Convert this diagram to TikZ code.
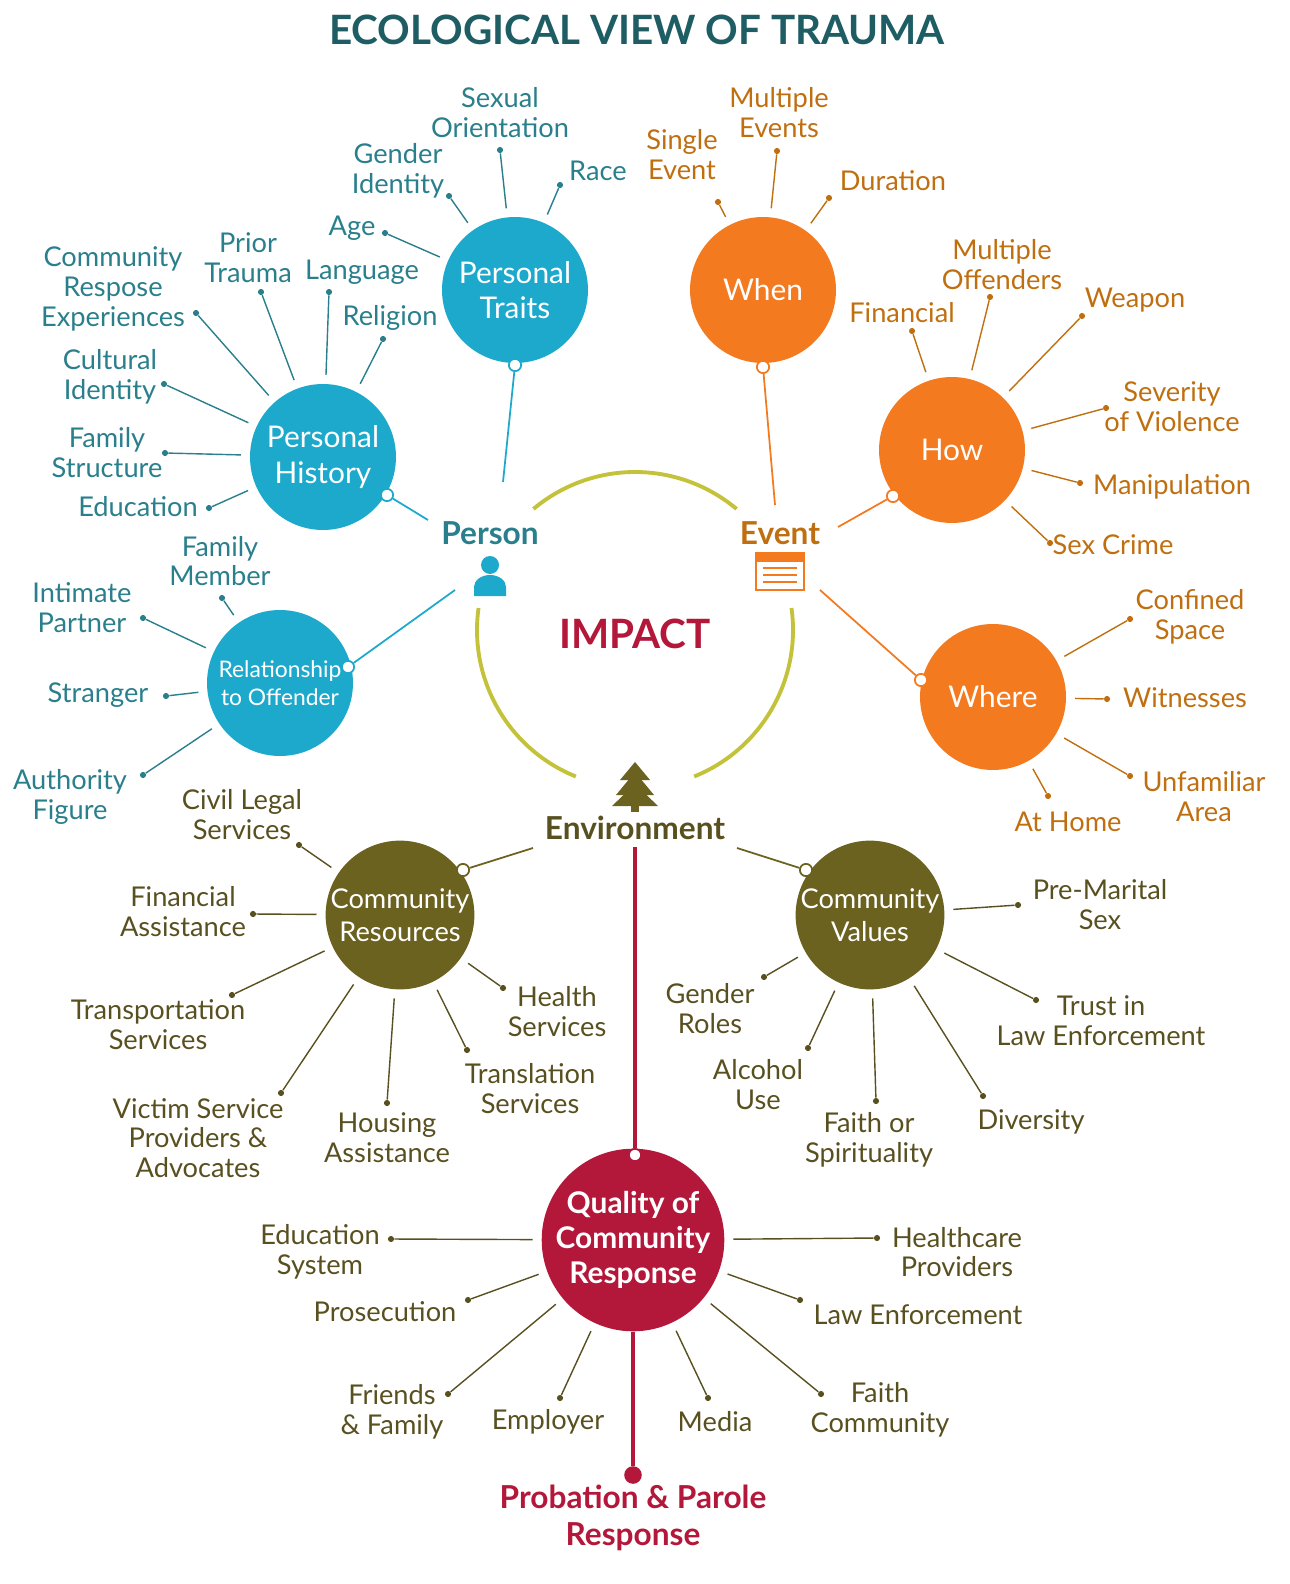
\documentclass[tikz,border=0pt]{standalone}
\usepackage{fontspec}
\setmainfont{Lato}
\usetikzlibrary{positioning}
\definecolor{tealc}{HTML}{1DA9CC}
\definecolor{tealt}{HTML}{2A7F8C}
\definecolor{orgc}{HTML}{F47A1F}
\definecolor{orgt}{HTML}{C06F10}
\definecolor{olvc}{HTML}{6B6220}
\definecolor{olvt}{HTML}{595020}
\definecolor{redc}{HTML}{B3173A}
\definecolor{ringc}{HTML}{C4C23A}
\definecolor{titlec}{HTML}{1D5D63}
\begin{document}
\begin{tikzpicture}[x=0.02cm,y=-0.02cm,
% hub circles
hub/.style = {circle, fill=#1, text=white, align=center, minimum size=2.92cm,
            inner sep=0, font=\fontsize{17}{20}\selectfont},
% leaf dots and labels
dot/.style = {circle, fill=#1, inner sep=0, minimum size=3.5pt},
lab/.style = {align=center, text=#1, font=\fontsize{15.5}{17}\selectfont, inner sep=1pt},
hollow/.style = {circle, draw=#1, fill=white, line width=1pt, inner sep=0, minimum size=7pt},
spoke/.style = {draw=#1, line width=0.8pt, shorten <=5pt},
key/.style = {text=#1, font=\fontsize{18}{21}\selectfont\bfseries}]
\useasboundingbox (0,0) rectangle (1290,1584);
\node[text=titlec, font=\fontsize{23}{27}\selectfont\bfseries] (title) at (637,30) {ECOLOGICAL VIEW OF TRAUMA};
% impact ring
\draw[ringc, line width=2.2pt] (635,630) ++(-50:158) arc (-50:-130:158);
\draw[ringc, line width=2.2pt] (635,630) ++(-172:158) arc (-172:-248:158);
\draw[ringc, line width=2.2pt] (635,630) ++(68:158) arc (68:-8:158);
\node[text=redc, font=\fontsize{23}{27}\selectfont\bfseries] (impact) at (635,634) {IMPACT};
\node[key=tealt] (person) at (490,533) {Person};
\node[key=orgt] (event) at (780,533) {Event};
\node[key=olvt] (env) at (635,828) {Environment};
% icons
\fill[tealc] (490,565) circle (9);
\fill[tealc] (474,596) -- (474,587) arc (180:360:16 and 12) -- (506,596) -- cycle;
\draw[orgc, line width=1pt, fill=white] (756,553) rectangle (804,590);
\fill[orgc] (756,553) rectangle (804,562);
\foreach \yy in {568,575,582} \draw[orgc, line width=1pt] (763,\yy) -- (797,\yy);
\fill[olvc] (635,762) -- (620,780) -- (650,780) -- cycle;
\fill[olvc] (635,772) -- (616,795) -- (654,795) -- cycle;
\fill[olvc] (635,784) -- (612,806) -- (658,806) -- cycle;
\fill[olvc] (631,806) rectangle (639,812);
% hubs
\node[hub=tealc] (traits) at (515,290) {Personal\\Traits};
\node[hub=tealc] (hist) at (323,457) {Personal\\History};
\node[hub=tealc, font=\fontsize{13}{16}\selectfont] (rel) at (280,683) {Relationship\\to Offender};
\node[hub=orgc] (when) at (763,290) {When};
\node[hub=orgc] (how) at (952,450) {How};
\node[hub=orgc] (where) at (993,697) {Where};
\node[hub=olvc, minimum size=2.88cm, font=\fontsize{15.5}{19}\selectfont] (res) at (400,915) {Community\\Resources};
\node[hub=olvc, minimum size=2.88cm, font=\fontsize{15.5}{19}\selectfont] (val) at (870,915) {Community\\Values};
\node[hub=redc, minimum size=3.4cm, font=\fontsize{17}{20}\selectfont\bfseries] (qual) at (633,1240) {Quality of\\Community\\Response};
% links to the ring labels
\node[hollow=tealc] (h1) at (515,365) {};
\node[hollow=tealc] (h2) at (387,495) {};
\node[hollow=tealc] (h3) at (348,667) {};
\node[hollow=orgc] (h4) at (763,367) {};
\node[hollow=orgc] (h5) at (893,496) {};
\node[hollow=orgc] (h6) at (921,680) {};
\node[hollow=olvc] (h7) at (463,870) {};
\node[hollow=olvc] (h8) at (806,870) {};
\node[hollow=redc] (h9) at (635,1155) {};
\coordinate (e1) at (503,482); \coordinate (e2) at (428,520);
\coordinate (e3) at (455,590); \coordinate (e4) at (775,505);
\coordinate (e5) at (838,527); \coordinate (e6) at (820,590);
\coordinate (e7) at (533,848); \coordinate (e8) at (737,848);
\coordinate (e9) at (635,847);
\draw[tealc, line width=1pt] (h1) -- (e1);
\draw[tealc, line width=1pt] (h2) -- (e2);
\draw[tealc, line width=1pt] (h3) -- (e3);
\draw[orgc, line width=1pt] (h4) -- (e4);
\draw[orgc, line width=1pt] (h5) -- (e5);
\draw[orgc, line width=1pt] (h6) -- (e6);
\draw[olvc, line width=1pt] (h7) -- (e7);
\draw[olvc, line width=1pt] (h8) -- (e8);
\draw[redc, line width=2pt] (e9) -- (h9);
\node[dot=redc, minimum size=10pt] (pp) at (633,1475) {};
\draw[redc, line width=2pt] (qual) -- (pp);
\node[key=redc, align=center] (ppr) at (633,1518) {Probation \& Parole\\Response};
% leaves
\foreach \n/\dx/\dy/\tx/\ty/\t in {so/500/150/500/113/{Sexual\\Orientation}, race/560/185/598/171/{Race},
    gi/449/196/398/171/{Gender\\Identity}, age/385/233/352/228/{Age}}{
  \node[dot=tealt] (tr-\n) at (\dx,\dy) {};
  \node[lab=tealt] (tr-\n-t) at (\tx,\ty) {\t};
  \draw[spoke=tealt] (traits) -- (tr-\n);}
\foreach \n/\dx/\dy/\tx/\ty/\t in {pt/261/292/248/258/{Prior\\Trauma}, cre/196/313/113/289/{Community\\Respose\\Experiences},
    lang/329/292/362/272/{Language}, rel/383/339/390/318/{Religion}, ci/164/384/110/377/{Cultural\\Identity},
    fs/165/453/107/453/{Family\\Structure}, ed/209/508/138/507/{Education}}{
  \node[dot=tealt] (hi-\n) at (\dx,\dy) {};
  \node[lab=tealt] (hi-\n-t) at (\tx,\ty) {\t};
  \draw[spoke=tealt] (hist) -- (hi-\n);}
\foreach \n/\dx/\dy/\tx/\ty/\t in {fm/222/598/220/561/{Family\\Member}, ip/143/618/82/608/{Intimate\\Partner},
    str/166/696/98/695/{Stranger}, af/143/775/70/797/{Authority\\Figure}}{
  \node[dot=tealt] (re-\n) at (\dx,\dy) {};
  \node[lab=tealt] (re-\n-t) at (\tx,\ty) {\t};
  \draw[spoke=tealt] (rel) -- (re-\n);}
\foreach \n/\dx/\dy/\tx/\ty/\t in {se/718/202/682/155/{Single\\Event}, me/777/151/779/113/{Multiple\\Events},
    dur/829/198/893/181/{Duration}}{
  \node[dot=orgt] (wh-\n) at (\dx,\dy) {};
  \node[lab=orgt] (wh-\n-t) at (\tx,\ty) {\t};
  \draw[spoke=orgt] (when) -- (wh-\n);}
\foreach \n/\dx/\dy/\tx/\ty/\t in {fin/912/331/902/313/{Financial}, mo/990/297/1002/265/{Multiple\\Offenders},
    wea/1082/316/1135/300/{Weapon}, sev/1106/408/1172/407/{Severity\\of Violence},
    man/1080/483/1172/487/{Manipulation}, sex/1050/543/1113/545/{Sex Crime}}{
  \node[dot=orgt] (ho-\n) at (\dx,\dy) {};
  \node[lab=orgt] (ho-\n-t) at (\tx,\ty) {\t};
  \draw[spoke=orgt] (how) -- (ho-\n);}
\foreach \n/\dx/\dy/\tx/\ty/\t in {cs/1130/619/1190/617/{Confined\\Space}, wit/1107/699/1185/698/{Witnesses},
    ua/1130/776/1204/797/{Unfamiliar\\Area}, ah/1048/796/1068/822/{At Home}}{
  \node[dot=orgt] (wr-\n) at (\dx,\dy) {};
  \node[lab=orgt] (wr-\n-t) at (\tx,\ty) {\t};
  \draw[spoke=orgt] (where) -- (wr-\n);}
\foreach \n/\dx/\dy/\tx/\ty/\t in {cls/299/845/242/815/{Civil Legal\\Services}, fa/253/914/183/912/{Financial\\Assistance},
    ts/232/995/158/1025/{Transportation\\Services}, vsp/281/1093/198/1138/{Victim Service\\Providers \&\\Advocates},
    ha/387/1103/387/1138/{Housing\\Assistance}, trs/467/1050/530/1089/{Translation\\Services},
    hs/503/988/557/1012/{Health\\Services}}{
  \node[dot=olvt] (cr-\n) at (\dx,\dy) {};
  \node[lab=olvt] (cr-\n-t) at (\tx,\ty) {\t};
  \draw[spoke=olvt] (res) -- (cr-\n);}
\foreach \n/\dx/\dy/\tx/\ty/\t in {pms/1018/905/1100/905/{Pre-Marital\\Sex}, gr/764/977/710/1009/{Gender\\Roles},
    tle/1036/1000/1101/1021/{Trust in\\Law Enforcement}, au/808/1048/758/1085/{Alcohol\\Use},
    fos/876/1101/869/1140/{Faith or\\Spirituality}, div/983/1096/1031/1122/{Diversity}}{
  \node[dot=olvt] (cv-\n) at (\dx,\dy) {};
  \node[lab=olvt] (cv-\n-t) at (\tx,\ty) {\t};
  \draw[spoke=olvt] (val) -- (cv-\n);}
\foreach \n/\dx/\dy/\tx/\ty/\t in {es/391/1239/320/1252/{Education\\System}, hp/877/1238/957/1252/{Healthcare\\Providers},
    pro/468/1300/385/1312/{Prosecution}, le/800/1300/918/1315/{Law Enforcement},
    ff/448/1394/392/1412/{Friends\\\& Family}, emp/560/1398/548/1422/{Employer},
    med/708/1398/715/1422/{Media}, fc/821/1394/880/1410/{Faith\\Community}}{
  \node[dot=olvt] (qr-\n) at (\dx,\dy) {};
  \node[lab=olvt] (qr-\n-t) at (\tx,\ty) {\t};
  \draw[spoke=olvt] (qual) -- (qr-\n);}
\end{tikzpicture}
\end{document}
